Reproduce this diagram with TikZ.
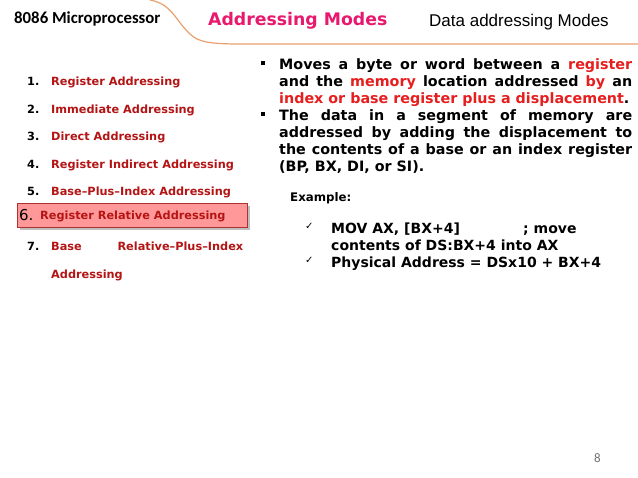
\documentclass[tikz,border=0pt]{standalone}
\usepackage{fontspec}
\setmainfont{DejaVu Sans}
\newfontfamily\hdr{Carlito}
\newfontfamily\arial{Liberation Sans}
\begin{document}
\begin{tikzpicture}[x=1pt,y=-1pt,
  li/.style={anchor=base west,inner sep=0pt,font=\fontsize{11.3}{13}\selectfont\bfseries,text=itemred},
  rt/.style={anchor=base west,inner sep=0pt,font=\fontsize{14.3}{16}\selectfont\bfseries},
  ex/.style={anchor=base west,inner sep=0pt,font=\fontsize{14}{16}\selectfont\bfseries},
  bul/.style={fill=black,minimum size=3.5pt,inner sep=0pt},
  chk/.style={anchor=base west,inner sep=0pt,font=\fontsize{10}{11}\selectfont}]
\definecolor{itemred}{RGB}{180,20,20}
\definecolor{hred}{RGB}{230,30,30}
\definecolor{mag}{RGB}{232,24,110}
\definecolor{orng}{RGB}{232,160,110}
\useasboundingbox (0,0) rectangle (638,478);
\fill[white] (0,0) rectangle (638,478);
\draw[orng,line width=1.2pt] (150,0) .. controls (172,4) and (175,20) .. (190,34) .. controls (198,42) and (210,44) .. (240,44) -- (638,44);
\node[anchor=base west,inner sep=0pt,font=\hdr\fontsize{16.8}{18}\selectfont\bfseries] (h1) at (14,24) {8086 Microprocessor};
\node[anchor=base west,inner sep=0pt,font=\fontsize{17.3}{19}\selectfont\bfseries,text=mag] (h2) at (208,26) {Addressing Modes};
\node[anchor=base west,inner sep=0pt,font=\arial\fontsize{17}{19}\selectfont] (h3) at (429,27) {Data addressing Modes};
% left list
\node[li,text=black] (n1) at (27,86) {1.}; \node[li] (t1) at (51,86) {Register Addressing};
\node[li,text=black] (n2) at (27,114) {2.}; \node[li] (t2) at (51,114) {Immediate Addressing};
\node[li,text=black] (n3) at (27,141) {3.}; \node[li] (t3) at (51,141) {Direct Addressing};
\node[li,text=black] (n4) at (27,169) {4.}; \node[li] (t4) at (51,169) {Register Indirect Addressing};
\node[li,text=black] (n5) at (27,196) {5.}; \node[li] (t5) at (51,196) {Base–Plus–Index Addressing};
\fill[black!25] (20,206) rectangle (250,230);
\fill[red!40,draw=red!60!black!80] (17,203) rectangle (247,227);
\node[anchor=base west,inner sep=0pt,font=\fontsize{15}{17}\selectfont] (n6) at (19,221) {6.};
\node[li] (t6) at (40,220) {Register Relative Addressing};
\node[li,text=black] (n7) at (27,251) {7.}; \node[li] (t7) at (51,251) {\makebox[192pt]{Base\hfill Relative–Plus–Index}};
\node[li] (t7b) at (51,279) {Addressing};
% right text
\node[bul] (b1) at (263,63) {};
\node[bul] (b2) at (263,114) {};
\node[rt] (r1) at (279,70) {\makebox[353pt][s]{Moves a byte or word between a \textcolor{hred}{register}}};
\node[rt] (r2) at (279,87) {\makebox[353pt][s]{and the \textcolor{hred}{memory} location addressed \textcolor{hred}{by} an}};
\node[rt] (r3) at (279,104) {\textcolor{hred}{index or base register plus a displacement}.};
\node[rt] (r4) at (279,121) {\makebox[353pt][s]{The data in a segment of memory are}};
\node[rt] (r5) at (279,138) {\makebox[353pt][s]{addressed by adding the displacement to}};
\node[rt] (r6) at (279,155) {\makebox[353pt][s]{the contents of a base or an index register}};
\node[rt] (r7) at (279,172) {(BP, BX, DI, or SI).};
\node[anchor=base west,inner sep=0pt,font=\fontsize{11.8}{13}\selectfont\bfseries] (e0) at (290,202) {Example:};
\node[chk] (c1) at (305,230) {✓};
\node[ex] (e1) at (331,234) {MOV AX, [BX+4]};
\node[ex] (e1b) at (523,234) {; move};
\node[ex] (e2) at (331,251) {contents of DS:BX+4 into AX};
\node[chk] (c2) at (305,264) {✓};
\node[ex] (e3) at (331,268) {Physical Address = DSx10 + BX+4};
\node[anchor=base west,inner sep=0pt,font=\hdr\fontsize{13}{15}\selectfont,text=black!55] (pg) at (594,463) {8};
\end{tikzpicture}
\end{document}
